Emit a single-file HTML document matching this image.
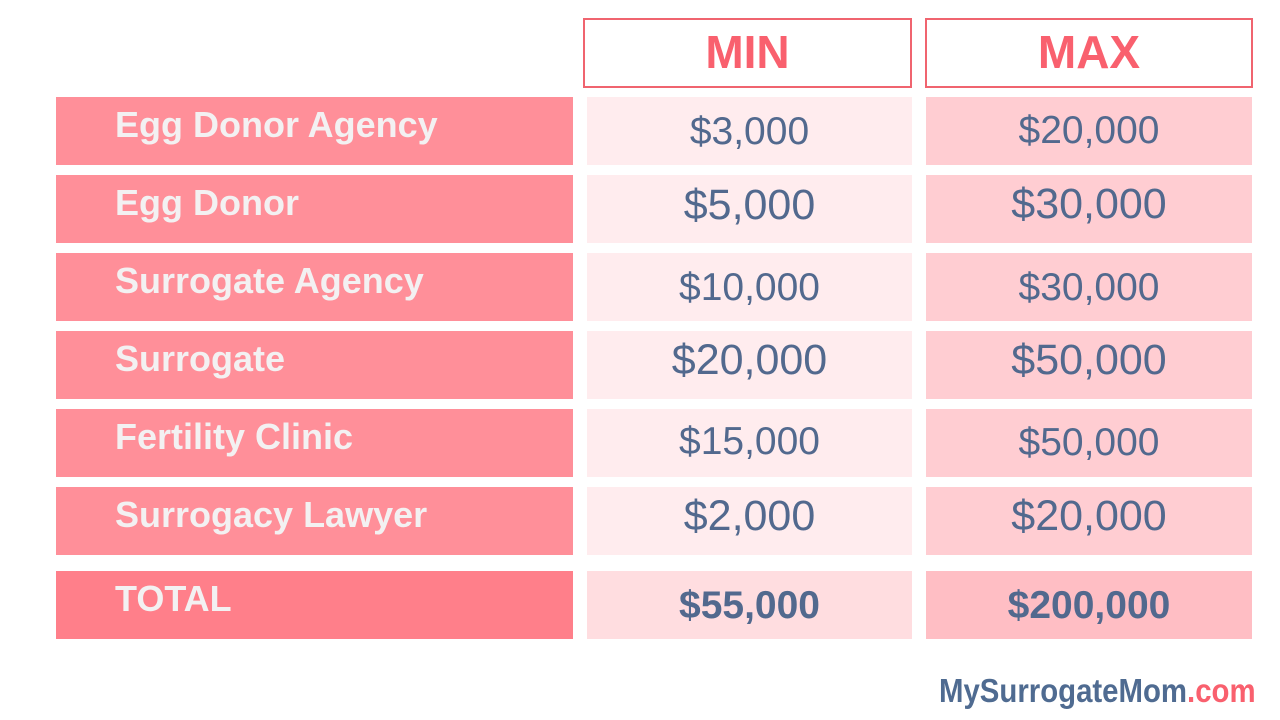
<!DOCTYPE html>
<html>
<head>
<meta charset="utf-8">
<style>
  html, body { margin:0; padding:0; }
  body { width:1280px; height:720px; background:#ffffff; position:relative; overflow:hidden;
         font-family:"Liberation Sans", sans-serif; }
  .box { position:absolute; }
  .hdr { position:absolute; top:18px; height:66px; border:2px solid #f0646f; background:#fff; }
  .hdrtxt { position:absolute; top:29px; font-size:46px; line-height:46px; font-weight:bold; color:#f9606e; text-align:center; }
  .lab { position:absolute; left:56px; width:517px; height:68px; background:#ff8f99; }
  .labtxt { position:absolute; left:59px; top:9.5px; font-size:36px; line-height:36px; font-weight:bold; color:#f3f1f2; white-space:nowrap; }
  .mn { position:absolute; left:587px; width:325px; height:68px; background:#ffecee; }
  .mx { position:absolute; left:926px; width:326px; height:68px; background:#ffcdd2; }
  .val { position:absolute; text-align:center; color:#52698e; white-space:nowrap; }
  .s39 { font-size:39px; line-height:39px; }
  .s43 { font-size:43px; line-height:43px; }
  .b { font-weight:bold; }
</style>
</head>
<body>
  <!-- headers -->
  <div class="hdr" style="left:583px; width:325px;"></div>
  <div class="hdr" style="left:925px; width:324px;"></div>
  <div class="hdrtxt" style="left:583px; width:329px;">MIN</div>
  <div class="hdrtxt" style="left:925px; width:328px;">MAX</div>

  <!-- label boxes -->
  <div class="lab" style="top:97px;"><div class="labtxt">Egg Donor Agency</div></div>
  <div class="lab" style="top:175px;"><div class="labtxt">Egg Donor</div></div>
  <div class="lab" style="top:253px;"><div class="labtxt">Surrogate Agency</div></div>
  <div class="lab" style="top:331px;"><div class="labtxt">Surrogate</div></div>
  <div class="lab" style="top:409px;"><div class="labtxt">Fertility Clinic</div></div>
  <div class="lab" style="top:487px;"><div class="labtxt">Surrogacy Lawyer</div></div>
  <div class="lab" style="top:571px; background:#ff7f8a;"><div class="labtxt">TOTAL</div></div>

  <!-- min cells -->
  <div class="mn" style="top:97px;"></div>
  <div class="mn" style="top:175px;"></div>
  <div class="mn" style="top:253px;"></div>
  <div class="mn" style="top:331px;"></div>
  <div class="mn" style="top:409px;"></div>
  <div class="mn" style="top:487px;"></div>
  <div class="mn" style="top:571px; background:#ffdde0;"></div>

  <!-- max cells -->
  <div class="mx" style="top:97px;"></div>
  <div class="mx" style="top:175px;"></div>
  <div class="mx" style="top:253px;"></div>
  <div class="mx" style="top:331px;"></div>
  <div class="mx" style="top:409px;"></div>
  <div class="mx" style="top:487px;"></div>
  <div class="mx" style="top:571px; background:#ffbec4;"></div>

  <!-- min values -->
  <div class="val s39" style="left:587px; width:325px; top:112px;">$3,000</div>
  <div class="val s43" style="left:587px; width:325px; top:184px;">$5,000</div>
  <div class="val s39" style="left:587px; width:325px; top:268px;">$10,000</div>
  <div class="val s43" style="left:587px; width:325px; top:339px;">$20,000</div>
  <div class="val s39" style="left:587px; width:325px; top:422px;">$15,000</div>
  <div class="val s43" style="left:587px; width:325px; top:495px;">$2,000</div>
  <div class="val s39 b" style="left:587px; width:325px; top:586px;">$55,000</div>

  <!-- max values -->
  <div class="val s39" style="left:926px; width:326px; top:111px;">$20,000</div>
  <div class="val s43" style="left:926px; width:326px; top:183px;">$30,000</div>
  <div class="val s39" style="left:926px; width:326px; top:268px;">$30,000</div>
  <div class="val s43" style="left:926px; width:326px; top:339px;">$50,000</div>
  <div class="val s39" style="left:926px; width:326px; top:423px;">$50,000</div>
  <div class="val s43" style="left:926px; width:326px; top:495px;">$20,000</div>
  <div class="val s39 b" style="left:926px; width:326px; top:586px;">$200,000</div>

  <!-- logo -->
  <div style="position:absolute; left:939px; top:674px; font-size:33px; line-height:33px; font-weight:bold; color:#4f6b91; white-space:nowrap; transform:scaleX(0.89); transform-origin:0 0;">MySurrogateMom<span style="color:#f9606e;">.com</span></div>
</body>
</html>
